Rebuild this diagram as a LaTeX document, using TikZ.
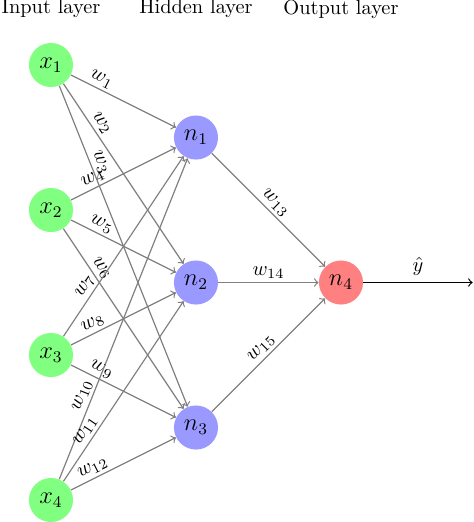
\documentclass[tikz,border=0pt]{standalone}
\usepackage{amsmath}
\usepackage{tikz}
\usetikzlibrary{arrows,positioning}

\begin{document}
\begin{tikzpicture}[
scale=1,
neuron/.style={circle,draw=none,minimum size=0.76cm,inner sep=0pt,font=\large},
inputneuron/.style={neuron,fill=green!50},
hiddenneuron/.style={neuron,fill=blue!40},
outputneuron/.style={neuron,fill=red!50},
weight/.style={->,semithick,draw=gray},
wlabel/.style={above,sloped,inner sep=1.5pt,text=black}
]
    % Fix the frame
    \useasboundingbox (-0.879,-7.879) rectangle (7.293,1.121);

    % Layer titles
    \node (inputtitle) at (0,0.966) {Input layer};
    \node (hiddentitle) at (2.5,0.966) {Hidden layer};
    \node (outputtitle) at (5,0.966) {Output layer};

    % Input layer
    \node[inputneuron] (x1) at (0,0) {$x_1$};
    \node[inputneuron] (x2) at (0,-2.5) {$x_2$};
    \node[inputneuron] (x3) at (0,-5) {$x_3$};
    \node[inputneuron] (x4) at (0,-7.5) {$x_4$};

    % Hidden layer
    \node[hiddenneuron] (n1) at (2.5,-1.25) {$n_1$};
    \node[hiddenneuron] (n2) at (2.5,-3.75) {$n_2$};
    \node[hiddenneuron] (n3) at (2.5,-6.25) {$n_3$};

    % Output layer
    \node[outputneuron] (n4) at (5,-3.75) {$n_4$};
    \coordinate (yout) at (7.27,-3.75);

    % Input to hidden
    \draw[weight] (x1) -- node[wlabel,pos=0.25]{$w_1$} (n1);
    \draw[weight] (x1) -- node[wlabel,pos=0.25]{$w_2$} (n2);
    \draw[weight] (x1) -- node[wlabel,pos=0.25]{$w_3$} (n3);
    \draw[weight] (x2) -- node[wlabel,pos=0.25]{$w_4$} (n1);
    \draw[weight] (x2) -- node[wlabel,pos=0.25]{$w_5$} (n2);
    \draw[weight] (x2) -- node[wlabel,pos=0.25]{$w_6$} (n3);
    \draw[weight] (x3) -- node[wlabel,pos=0.25]{$w_7$} (n1);
    \draw[weight] (x3) -- node[wlabel,pos=0.25]{$w_8$} (n2);
    \draw[weight] (x3) -- node[wlabel,pos=0.25]{$w_9$} (n3);
    \draw[weight] (x4) -- node[wlabel,pos=0.25]{$w_{10}$} (n1);
    \draw[weight] (x4) -- node[wlabel,pos=0.25]{$w_{11}$} (n2);
    \draw[weight] (x4) -- node[wlabel,pos=0.25]{$w_{12}$} (n3);

    % Hidden to output
    \draw[weight] (n1) -- node[wlabel]{$w_{13}$} (n4);
    \draw[weight] (n2) -- node[wlabel]{$w_{14}$} (n4);
    \draw[weight] (n3) -- node[wlabel]{$w_{15}$} (n4);

    \draw[->,semithick] (n4) -- node[above]{$\hat{y}$} (yout);

\end{tikzpicture}
\end{document}
